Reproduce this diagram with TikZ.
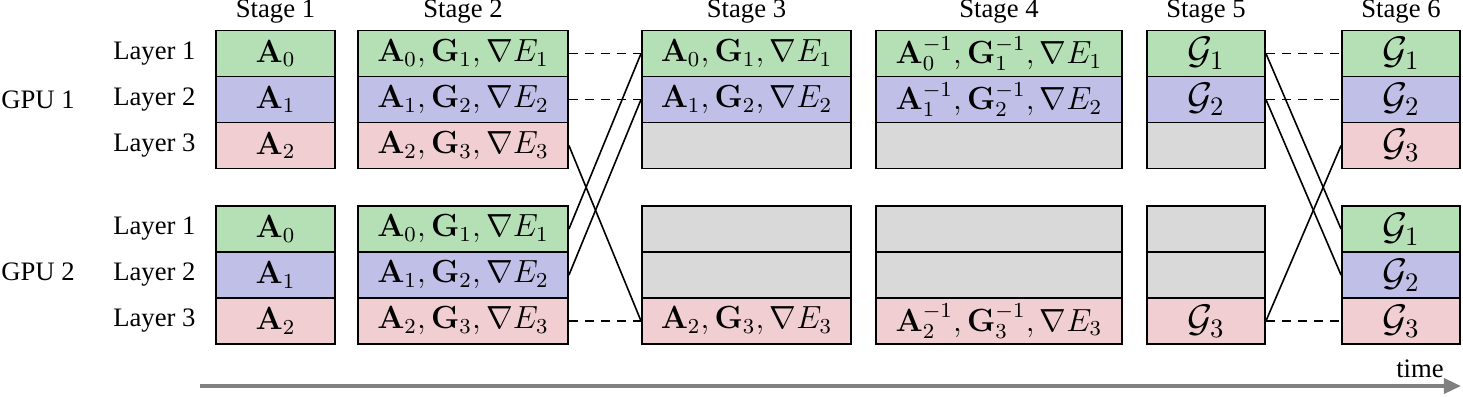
\documentclass[tikz,border=0pt]{standalone}
\usepackage[no-math]{fontspec}
\setmainfont{Liberation Serif}
\usetikzlibrary{arrows.meta}
\definecolor{cgreen}{RGB}{181,224,181}
\definecolor{cblue}{RGB}{191,191,232}
\definecolor{cred}{RGB}{240,206,209}
\definecolor{cgray}{RGB}{217,217,217}
\definecolor{arrowgray}{RGB}{128,128,128}
\begin{document}
\begin{tikzpicture}[x=0.375pt,y=-0.375pt,
  cellbox/.style={draw, line width=0.7pt, inner sep=0pt, minimum height=17.25pt, font=\fontsize{12}{14}\selectfont},
  wa/.style={cellbox, minimum width=44.6pt},
  wb/.style={cellbox, minimum width=78.75pt},
  wc/.style={cellbox, minimum width=78.4pt},
  wd/.style={cellbox, minimum width=92.25pt},
  we/.style={cellbox, minimum width=44.25pt, font=\fontsize{14.4}{16}\selectfont},
  lg/.style={fill=cgreen}, lb/.style={fill=cblue}, lr/.style={fill=cred}, lx/.style={fill=cgray},
  lbl/.style={inner sep=0pt, font=\fontsize{10}{12}\selectfont},
  conn/.style={line width=0.6pt},
  dconn/.style={line width=0.6pt, dash pattern=on 3.5pt off 2.5pt}
]
\useasboundingbox (0,0) rectangle (1463,396);

% headers
\node[lbl] (h1) at (275.5,12) {Stage 1};
\node[lbl] (h2) at (463,12) {Stage 2};
\node[lbl] (h3) at (746.5,12) {Stage 3};
\node[lbl] (h4) at (999,12) {Stage 4};
\node[lbl] (h5) at (1206,12) {Stage 5};
\node[lbl] (h6) at (1401,12) {Stage 6};

% left labels
\node[lbl] (gpu1) at (38,100) {GPU 1};
\node[lbl] (gpu2) at (38,272) {GPU 2};
\node[lbl, anchor=east] (ly11) at (196,53.5) {Layer 1};
\node[lbl, anchor=east] (ly12) at (196,99.5) {Layer 2};
\node[lbl, anchor=east] (ly13) at (196,145.5) {Layer 3};
\node[lbl, anchor=east] (ly21) at (196,229) {Layer 1};
\node[lbl, anchor=east] (ly22) at (196,275) {Layer 2};
\node[lbl, anchor=east] (ly23) at (196,321) {Layer 3};

% Stage 1
\node[wa, lg] (s1g1l1) at (275.5,53.5) {$\mathbf{A}_0$};
\node[wa, lb] (s1g1l2) at (275.5,99.5) {$\mathbf{A}_1$};
\node[wa, lr] (s1g1l3) at (275.5,145.5) {$\mathbf{A}_2$};
\node[wa, lg] (s1g2l1) at (275.5,229) {$\mathbf{A}_0$};
\node[wa, lb] (s1g2l2) at (275.5,275) {$\mathbf{A}_1$};
\node[wa, lr] (s1g2l3) at (275.5,321) {$\mathbf{A}_2$};

% Stage 2
\node[wb, lg] (s2g1l1) at (463,53.5) {$\mathbf{A}_0, \mathbf{G}_1, \nabla E_1$};
\node[wb, lb] (s2g1l2) at (463,99.5) {$\mathbf{A}_1, \mathbf{G}_2, \nabla E_2$};
\node[wb, lr] (s2g1l3) at (463,145.5) {$\mathbf{A}_2, \mathbf{G}_3, \nabla E_3$};
\node[wb, lg] (s2g2l1) at (463,229) {$\mathbf{A}_0, \mathbf{G}_1, \nabla E_1$};
\node[wb, lb] (s2g2l2) at (463,275) {$\mathbf{A}_1, \mathbf{G}_2, \nabla E_2$};
\node[wb, lr] (s2g2l3) at (463,321) {$\mathbf{A}_2, \mathbf{G}_3, \nabla E_3$};

% Stage 3
\node[wc, lg] (s3g1l1) at (746.5,53.5) {$\mathbf{A}_0, \mathbf{G}_1, \nabla E_1$};
\node[wc, lb] (s3g1l2) at (746.5,99.5) {$\mathbf{A}_1, \mathbf{G}_2, \nabla E_2$};
\node[wc, lx] (s3g1l3) at (746.5,145.5) {};
\node[wc, lx] (s3g2l1) at (746.5,229) {};
\node[wc, lx] (s3g2l2) at (746.5,275) {};
\node[wc, lr] (s3g2l3) at (746.5,321) {$\mathbf{A}_2, \mathbf{G}_3, \nabla E_3$};

% Stage 4
\node[wd, lg] (s4g1l1) at (999,53.5) {$\mathbf{A}_0^{-1}, \mathbf{G}_1^{-1}, \nabla E_1$};
\node[wd, lb] (s4g1l2) at (999,99.5) {$\mathbf{A}_1^{-1}, \mathbf{G}_2^{-1}, \nabla E_2$};
\node[wd, lx] (s4g1l3) at (999,145.5) {};
\node[wd, lx] (s4g2l1) at (999,229) {};
\node[wd, lx] (s4g2l2) at (999,275) {};
\node[wd, lr] (s4g2l3) at (999,321) {$\mathbf{A}_2^{-1}, \mathbf{G}_3^{-1}, \nabla E_3$};

% Stage 5
\node[we, lg] (s5g1l1) at (1206,53.5) {$\mathcal{G}_1$};
\node[we, lb] (s5g1l2) at (1206,99.5) {$\mathcal{G}_2$};
\node[we, lx] (s5g1l3) at (1206,145.5) {};
\node[we, lx] (s5g2l1) at (1206,229) {};
\node[we, lx] (s5g2l2) at (1206,275) {};
\node[we, lr] (s5g2l3) at (1206,321) {$\mathcal{G}_3$};

% Stage 6
\node[we, lg] (s6g1l1) at (1401,53.5) {$\mathcal{G}_1$};
\node[we, lb] (s6g1l2) at (1401,99.5) {$\mathcal{G}_2$};
\node[we, lr] (s6g1l3) at (1401,145.5) {$\mathcal{G}_3$};
\node[we, lg] (s6g2l1) at (1401,229) {$\mathcal{G}_1$};
\node[we, lb] (s6g2l2) at (1401,275) {$\mathcal{G}_2$};
\node[we, lr] (s6g2l3) at (1401,321) {$\mathcal{G}_3$};

% connectors stage 2 -> 3
\draw[dconn] (s2g1l1.east) -- (s3g1l1.west);
\draw[dconn] (s2g1l2.east) -- (s3g1l2.west);
\draw[dconn] (s2g2l3.east) -- (s3g2l3.west);
\draw[conn] (s2g2l1.east) -- (s3g1l1.west);
\draw[conn] (s2g2l2.east) -- (s3g1l2.west);
\draw[conn] (s2g1l3.east) -- (s3g2l3.west);

% connectors stage 5 -> 6
\draw[dconn] (s5g1l1.east) -- (s6g1l1.west);
\draw[dconn] (s5g1l2.east) -- (s6g1l2.west);
\draw[dconn] (s5g2l3.east) -- (s6g2l3.west);
\draw[conn] (s5g1l1.east) -- (s6g2l1.west);
\draw[conn] (s5g1l2.east) -- (s6g2l2.west);
\draw[conn] (s5g2l3.east) -- (s6g1l3.west);

% time arrow
\coordinate (t0) at (200,386);
\coordinate (t1) at (1461,386);
\draw[arrowgray, line width=1.4pt, -{Triangle[length=6.4pt, width=5.6pt]}] (t0) -- (t1);
\node[lbl] (time) at (1420,369) {time};
\end{tikzpicture}
\end{document}
